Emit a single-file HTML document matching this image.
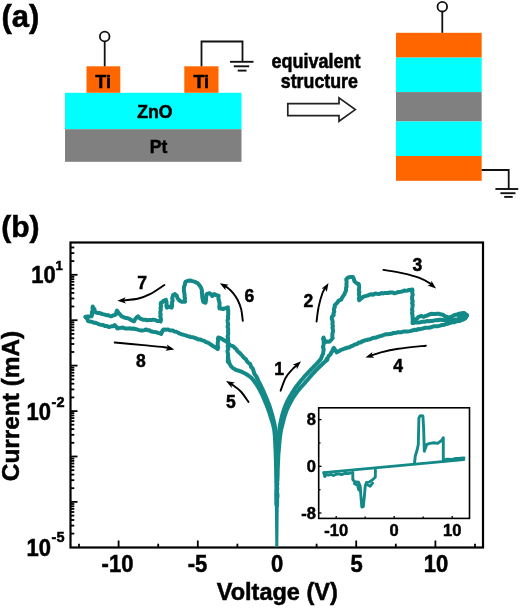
<!DOCTYPE html>
<html><head><meta charset="utf-8">
<style>
html,body{margin:0;padding:0;background:#fff;}
body{width:520px;height:608px;overflow:hidden;}
svg{display:block;}
text{font-family:"Liberation Sans",Arial,sans-serif;font-weight:bold;fill:#000;stroke:#000;stroke-width:0.5px;}
</style></head><body>
<svg width="520" height="608" viewBox="0 0 520 608">
<rect width="520" height="608" fill="#fff"/>
<!-- ===== (a) ===== -->
<text x="1.5" y="26.5" font-size="31">(a)</text>
<rect x="65" y="92.8" width="176.5" height="36.4" fill="#00ffff"/>
<rect x="65" y="129.2" width="176.5" height="32.6" fill="#808080"/>
<rect x="86.5" y="66.3" width="33.8" height="26.5" fill="#ff6600"/>
<rect x="184.3" y="66.3" width="34.2" height="26.5" fill="#ff6600"/>
<text x="103.2" y="87.7" font-size="18" text-anchor="middle">Ti</text>
<text x="201.3" y="87.7" font-size="18" text-anchor="middle">Ti</text>
<text x="154.8" y="118.0" font-size="17.5" text-anchor="middle">ZnO</text>
<text x="158.6" y="152.7" font-size="17.5" text-anchor="middle">Pt</text>
<g fill="none" stroke="#111" stroke-width="1.8">
<circle cx="104.7" cy="36.5" r="4.8"/>
<line x1="104.7" y1="41.3" x2="104.7" y2="66.3"/>
<polyline points="201.5,66.3 201.5,41.5 242.5,41.5 242.5,61.8"/>
<line x1="230" y1="61.8" x2="253.5" y2="61.8" stroke-width="1.9"/>
<line x1="233.8" y1="66.3" x2="249.2" y2="66.3" stroke-width="1.9"/>
<line x1="237.7" y1="70.6" x2="246.5" y2="70.6" stroke-width="1.9"/>
</g>
<text transform="translate(271.6,68.3) scale(1,1.1)" font-size="18">equivalent</text>
<text transform="translate(280.8,87.6) scale(1,1.1)" font-size="17.8">structure</text>
<polygon points="287.8,103.7 339,103.7 339,97.8 355.3,109.6 339,121.3 339,115.6 287.8,115.6" fill="none" stroke="#222" stroke-width="1.7" stroke-linejoin="miter"/>
<rect x="396" y="32.8" width="85.7" height="24.8" fill="#ff6600"/>
<rect x="396" y="57.6" width="85.7" height="34.5" fill="#00ffff"/>
<rect x="396" y="92.1" width="85.7" height="29.4" fill="#808080"/>
<rect x="396" y="121.5" width="85.7" height="34.5" fill="#00ffff"/>
<rect x="396" y="156" width="85.7" height="24.8" fill="#ff6600"/>
<g fill="none" stroke="#111" stroke-width="1.8">
<circle cx="442.3" cy="6.7" r="4.8"/>
<line x1="442.3" y1="11.5" x2="442.3" y2="32.8"/>
<polyline points="481.7,170 508.7,170 508.7,189"/>
<line x1="495.4" y1="189" x2="518.2" y2="189" stroke-width="1.9"/>
<line x1="500.4" y1="193.2" x2="515.5" y2="193.2" stroke-width="1.9"/>
<line x1="504.2" y1="196.9" x2="512.7" y2="196.9" stroke-width="1.9"/>
</g>
<!-- ===== (b) ===== -->
<text x="1.3" y="237.4" font-size="30">(b)</text>
<g id="frame" fill="none" stroke="#000" stroke-width="2.2">
<rect x="70.5" y="242.5" width="412.5" height="305"/>
</g>
<g id="ticks" stroke="#000" stroke-width="1.8">
<line x1="70.5" y1="533.6" x2="74.3" y2="533.6"/>
<line x1="70.5" y1="525.6" x2="74.3" y2="525.6"/>
<line x1="70.5" y1="520.0" x2="74.3" y2="520.0"/>
<line x1="70.5" y1="515.6" x2="74.3" y2="515.6"/>
<line x1="70.5" y1="512.0" x2="74.3" y2="512.0"/>
<line x1="70.5" y1="508.9" x2="74.3" y2="508.9"/>
<line x1="70.5" y1="506.3" x2="74.3" y2="506.3"/>
<line x1="70.5" y1="504.0" x2="74.3" y2="504.0"/>
<line x1="70.5" y1="501.9" x2="77.5" y2="501.9"/>
<line x1="70.5" y1="488.2" x2="74.3" y2="488.2"/>
<line x1="70.5" y1="480.2" x2="74.3" y2="480.2"/>
<line x1="70.5" y1="474.6" x2="74.3" y2="474.6"/>
<line x1="70.5" y1="470.2" x2="74.3" y2="470.2"/>
<line x1="70.5" y1="466.6" x2="74.3" y2="466.6"/>
<line x1="70.5" y1="463.5" x2="74.3" y2="463.5"/>
<line x1="70.5" y1="460.9" x2="74.3" y2="460.9"/>
<line x1="70.5" y1="458.6" x2="74.3" y2="458.6"/>
<line x1="70.5" y1="456.5" x2="77.5" y2="456.5"/>
<line x1="70.5" y1="442.8" x2="74.3" y2="442.8"/>
<line x1="70.5" y1="434.8" x2="74.3" y2="434.8"/>
<line x1="70.5" y1="429.1" x2="74.3" y2="429.1"/>
<line x1="70.5" y1="424.7" x2="74.3" y2="424.7"/>
<line x1="70.5" y1="421.1" x2="74.3" y2="421.1"/>
<line x1="70.5" y1="418.1" x2="74.3" y2="418.1"/>
<line x1="70.5" y1="415.5" x2="74.3" y2="415.5"/>
<line x1="70.5" y1="413.1" x2="74.3" y2="413.1"/>
<line x1="70.5" y1="411.1" x2="77.5" y2="411.1"/>
<line x1="70.5" y1="397.4" x2="74.3" y2="397.4"/>
<line x1="70.5" y1="389.4" x2="74.3" y2="389.4"/>
<line x1="70.5" y1="383.7" x2="74.3" y2="383.7"/>
<line x1="70.5" y1="379.3" x2="74.3" y2="379.3"/>
<line x1="70.5" y1="375.7" x2="74.3" y2="375.7"/>
<line x1="70.5" y1="372.7" x2="74.3" y2="372.7"/>
<line x1="70.5" y1="370.0" x2="74.3" y2="370.0"/>
<line x1="70.5" y1="367.7" x2="74.3" y2="367.7"/>
<line x1="70.5" y1="365.6" x2="77.5" y2="365.6"/>
<line x1="70.5" y1="352.0" x2="74.3" y2="352.0"/>
<line x1="70.5" y1="344.0" x2="74.3" y2="344.0"/>
<line x1="70.5" y1="338.3" x2="74.3" y2="338.3"/>
<line x1="70.5" y1="333.9" x2="74.3" y2="333.9"/>
<line x1="70.5" y1="330.3" x2="74.3" y2="330.3"/>
<line x1="70.5" y1="327.3" x2="74.3" y2="327.3"/>
<line x1="70.5" y1="324.6" x2="74.3" y2="324.6"/>
<line x1="70.5" y1="322.3" x2="74.3" y2="322.3"/>
<line x1="70.5" y1="320.2" x2="77.5" y2="320.2"/>
<line x1="70.5" y1="306.5" x2="74.3" y2="306.5"/>
<line x1="70.5" y1="298.5" x2="74.3" y2="298.5"/>
<line x1="70.5" y1="292.9" x2="74.3" y2="292.9"/>
<line x1="70.5" y1="288.5" x2="74.3" y2="288.5"/>
<line x1="70.5" y1="284.9" x2="74.3" y2="284.9"/>
<line x1="70.5" y1="281.8" x2="74.3" y2="281.8"/>
<line x1="70.5" y1="279.2" x2="74.3" y2="279.2"/>
<line x1="70.5" y1="276.9" x2="74.3" y2="276.9"/>
<line x1="70.5" y1="274.8" x2="77.5" y2="274.8"/>
<line x1="70.5" y1="261.1" x2="74.3" y2="261.1"/>
<line x1="70.5" y1="253.1" x2="74.3" y2="253.1"/>
<line x1="70.5" y1="247.5" x2="74.3" y2="247.5"/>
<line x1="79.0" y1="547.5" x2="79.0" y2="543.7"/>
<line x1="118.6" y1="547.5" x2="118.6" y2="540.5"/>
<line x1="158.2" y1="547.5" x2="158.2" y2="543.7"/>
<line x1="197.8" y1="547.5" x2="197.8" y2="540.5"/>
<line x1="237.4" y1="547.5" x2="237.4" y2="543.7"/>
<line x1="277.0" y1="547.5" x2="277.0" y2="540.5"/>
<line x1="316.6" y1="547.5" x2="316.6" y2="543.7"/>
<line x1="356.2" y1="547.5" x2="356.2" y2="540.5"/>
<line x1="395.8" y1="547.5" x2="395.8" y2="543.7"/>
<line x1="435.4" y1="547.5" x2="435.4" y2="540.5"/>
<line x1="475.0" y1="547.5" x2="475.0" y2="543.7"/>
</g>
<g id="curves" fill="none" stroke="#138a87" stroke-width="4.0" stroke-linejoin="round" stroke-linecap="round">
<polyline points="228.0,362.0 227.8,360.4 228.0,358.8 227.9,357.2 228.1,355.6 228.1,354.0 227.6,352.3 227.5,350.7 228.3,349.1 227.8,347.5 227.7,345.9 228.4,344.3 227.9,342.7 228.3,341.1 227.9,339.5 228.1,337.9 227.6,336.3 228.1,334.6 228.3,333.0 228.0,331.4 228.2,329.8 228.1,328.2 227.5,326.6 228.2,325.0 228.0,323.4 227.7,321.8 227.5,320.2 228.2,318.6 227.9,317.0 228.1,315.3 228.3,313.7 228.1,312.1 228.3,310.5 227.8,308.9 227.9,307.3 225.8,308.1 222.9,309.0 221.2,308.5 219.5,308.5 219.3,306.6 219.6,304.6 219.5,302.7 219.0,300.8 218.5,299.1 218.4,297.4 218.6,295.6 216.3,295.1 214.2,294.1 212.3,296.0 211.1,294.3 209.4,293.2 206.5,294.1 206.4,295.8 206.0,297.6 206.1,299.3 205.8,301.1 205.6,302.8 203.2,301.8 202.8,299.9 202.4,298.0 202.2,296.0 202.1,294.1 201.8,292.1 201.9,290.2 201.3,288.3 200.2,286.3 198.8,284.5 197.7,283.2 196.2,282.6 194.4,281.6 192.3,281.1 190.4,280.5 188.5,280.7 185.6,281.6 185.0,283.2 184.9,284.9 184.1,286.4 183.9,288.2 183.9,289.9 184.0,291.6 184.4,293.4 184.6,295.1 184.5,296.8 185.1,298.4 184.7,300.1 185.1,301.8 183.4,301.7 181.7,301.8 180.1,301.0 178.8,299.9 177.5,298.1 176.9,296.0 175.0,294.1 173.1,295.1 172.6,296.8 172.2,298.6 172.8,300.5 172.0,302.2 172.1,304.0 172.1,305.9 171.6,307.6 169.2,306.6 166.8,307.6 166.4,305.7 166.6,303.7 166.5,301.8 165.9,299.9 163.5,300.8 162.4,302.1 160.8,302.8 160.7,304.5 161.2,306.2 160.5,307.9 160.9,309.6 160.4,311.3 160.3,313.0 160.7,314.7 160.2,316.4 160.8,318.1 161.0,319.8 160.6,321.5 159.0,320.9 157.3,321.0 155.8,320.1 153.1,319.6 151.2,320.1 149.2,320.1 147.3,320.2 145.4,319.8 143.4,319.8 141.5,319.2 139.5,318.1 138.0,316.3 136.5,317.5 135.1,319.2 134.2,321.2 132.4,320.7 130.8,319.8 129.4,318.8 127.9,318.3 126.2,318.1 124.6,317.6 123.1,316.9 121.5,316.3 120.1,314.6 118.7,312.9 116.9,310.6 116.2,312.6 115.8,314.6 114.2,315.1 112.7,315.7 111.2,316.3 109.7,315.8 108.2,315.2 106.5,315.2 104.6,314.6 102.7,314.1 100.8,313.5 99.1,312.9 97.3,312.9 95.6,312.3 94.7,310.9 94.5,309.2 93.4,307.9 92.7,306.5 92.5,308.1 92.7,309.8 92.2,311.4 91.8,313.0 92.1,314.7 91.5,316.3 89.5,316.4 87.5,316.6 85.5,316.9"/>
<polyline points="85.5,316.9 86.6,318.1 87.5,319.4 88.1,321.0 90.0,321.5 92.0,321.8 93.8,322.7 95.7,322.8 97.5,323.5 99.2,324.4 101.1,324.8 103.0,325.0 104.8,325.9 106.9,326.0 108.7,326.9 110.3,326.7 111.9,326.2 113.5,326.2 114.6,325.0 116.2,326.6 117.3,328.5 120.4,327.9 122.0,327.6 123.6,327.8 125.2,328.5 126.8,328.5 128.4,328.5 130.0,328.3 131.7,328.8 133.5,328.6 135.2,329.0 136.9,329.4 139.2,330.1 141.5,330.6 143.1,330.4 144.7,330.1 146.2,329.4 147.6,330.3 149.4,330.3 150.8,331.2 152.7,331.7 154.6,332.1 156.5,332.3 158.1,332.9 159.7,333.2 161.2,334.0 161.9,332.5 162.4,330.8 163.5,329.4 165.8,329.8 168.1,329.4 169.6,330.2 171.3,330.4 173.0,330.6 174.5,331.6 176.2,331.7 177.9,332.5 179.5,333.5 181.3,334.2 183.1,334.6 184.6,335.1 186.2,335.5 187.7,336.1 189.3,336.5 190.8,337.0 192.8,337.2 194.6,337.8 196.5,338.5 198.3,339.4 200.5,339.4 202.3,340.4 204.1,340.8 205.6,342.0 207.4,342.4 209.0,343.3 210.6,344.4 212.2,345.5 213.8,346.6 215.8,347.7 217.7,349.0 218.2,347.4 217.6,345.7 217.8,344.1 217.7,342.4 218.2,340.8 217.9,339.1 218.2,337.5 219.9,337.9 221.5,338.5 223.3,339.9 225.4,340.9 226.8,341.9 227.9,343.1 229.2,344.2 230.4,345.5 232.3,345.9 233.8,346.8 235.0,348.1 236.4,349.2 237.2,350.8 238.5,352.0 239.9,353.1 241.0,354.4 242.3,355.6 243.3,357.1 244.5,358.2 245.9,359.1 246.6,360.7 247.6,362.0 248.8,363.1 250.2,364.0 250.7,365.6 251.2,367.2 252.7,368.3 253.2,369.9 253.7,371.5 254.2,373.4 255.2,375.1 256.4,376.6 257.2,378.4"/>
<polyline points="320.5,359.5 321.2,358.0 321.8,356.6 322.4,355.1 323.1,353.6 323.3,352.0 323.5,350.4 323.7,348.8 322.9,347.2 323.4,345.6 323.8,343.9 323.6,342.3 323.8,340.7 323.1,339.1 323.5,337.5 324.3,339.7 325.0,342.0 326.6,341.6 328.2,341.7 329.8,341.5 331.3,339.8 332.7,338.1 332.3,336.4 332.4,334.7 332.5,333.0 333.1,331.3 332.9,329.5 332.4,327.8 333.0,326.1 332.4,324.4 332.7,322.7 332.5,320.8 331.8,318.9 331.9,316.9 333.7,315.0 333.4,313.4 334.3,311.8 333.9,310.2 334.0,308.6 334.9,307.0 334.6,305.4 336.5,303.5 337.8,302.2 338.5,300.6 341.3,299.6 342.1,297.6 343.3,295.8 344.4,294.5 344.8,292.9 345.6,291.5 346.2,290.0 345.9,288.2 346.6,286.5 346.4,284.7 346.6,282.9 346.6,281.2 346.2,279.4 348.1,277.5 349.7,277.1 351.3,277.0 352.9,276.9 353.9,279.0 354.4,281.3 356.7,283.3 358.7,284.0 359.1,285.6 359.2,287.2 359.0,288.9 358.8,290.5 359.4,292.1 358.8,293.8 359.2,295.4 359.3,297.0 358.9,298.7 359.2,300.3 360.6,299.1 362.0,297.8 363.5,296.7 365.4,296.1 367.4,295.6 369.2,294.8 371.1,294.2 373.1,294.7 374.9,293.6 376.9,293.8 378.5,293.9 380.1,293.8 381.7,292.9 383.3,293.5 384.9,292.9 386.5,292.9 388.1,293.0 389.7,292.5 391.4,292.5 393.0,292.6 394.6,293.3 396.2,292.9 398.0,292.1 400.0,291.9 402.2,291.5 404.2,290.6 405.9,290.8 407.5,290.6 409.1,289.9 410.7,289.7 412.4,289.6 412.4,291.3 412.2,292.9 412.8,294.6 412.2,296.3 412.1,298.0 412.1,299.6 412.8,301.3 412.0,303.0 412.8,304.6 412.5,306.3 412.3,308.0 412.0,309.6 412.5,311.3 412.0,313.0 412.4,314.6 412.6,316.3 412.6,318.0 412.7,319.7 412.8,321.3 412.4,323.0 413.1,321.4 414.4,320.2 415.9,319.2 417.4,318.3 418.5,316.8 420.1,316.3 421.8,316.1 423.6,316.8 425.2,316.2 426.9,315.6 428.5,314.9 430.1,314.2 431.9,313.8 433.6,313.9 435.3,314.0 436.9,313.7 438.6,313.7 440.4,314.2 442.3,314.5 444.0,315.5 445.2,316.7 447.0,316.8 448.1,318.0 449.9,317.2 451.8,316.6 453.5,315.5 455.2,314.7 457.1,314.8 458.8,314.1 460.7,314.1 462.4,313.5 464.2,313.0 465.4,314.2 466.9,315.0"/>
<polyline points="413.0,323.0 415.8,322.4 417.7,322.5 419.6,322.4 421.4,322.0 423.3,321.6 425.2,321.7 427.0,321.0 429.0,321.3 430.8,320.9 432.8,320.9 434.6,320.4 436.3,320.1 438.0,320.3 439.6,319.7 441.3,319.7 442.9,320.1 444.5,320.2 446.2,320.1 447.8,320.4 449.4,320.5 451.1,320.4 452.7,319.7 454.4,319.8 456.0,319.5 458.1,319.3 459.9,318.3 462.0,318.0 463.6,317.6 465.1,316.8 466.5,316.0"/>
<polyline points="466.9,315.5 465.6,318.2 463.6,319.3 461.5,320.2 459.8,320.9 457.9,320.9 456.1,321.5 454.5,322.2 452.7,322.2 451.1,322.7 449.4,322.9 447.8,323.8 446.0,323.9 444.5,324.8 442.7,324.9 440.9,325.3 439.2,325.9 437.4,326.3 435.5,326.3 433.6,326.3 431.9,326.9 430.2,327.6 428.4,327.8 426.5,327.8 424.7,327.8 423.0,328.5 421.2,328.9 419.6,329.3 417.9,329.0 416.4,330.1 414.7,329.7 413.1,330.3 411.5,330.7 409.9,331.1 408.3,331.4 406.6,331.5 405.0,331.6 403.2,331.5 401.6,332.3 399.8,332.2 398.1,332.3 396.3,332.8 394.6,332.9 393.0,333.1 391.4,333.8 389.8,334.1 388.2,334.2 386.5,334.2 384.9,334.5 383.3,335.2 381.7,335.8 380.1,336.1 378.5,336.7 376.9,337.1 375.3,337.8 373.5,337.8 371.8,338.4 370.3,339.3 368.5,339.5 366.8,340.0 365.1,340.2 363.5,341.0 361.9,341.5 360.5,342.5 358.7,342.6 357.5,343.9 355.8,344.3 354.2,344.7 352.8,345.8 351.2,346.2 349.8,347.2 348.1,347.5 346.4,348.0 344.8,348.5 343.2,349.2 341.5,349.6 340.0,350.5 338.3,351.5 336.5,352.3 335.8,350.7 334.8,349.3 333.8,347.8 332.9,349.4 332.2,351.2 331.1,352.7 330.5,354.5 328.9,355.7 327.9,357.5 326.5,359.0"/>
<polyline points="257.2,378.4 257.7,379.3 258.3,380.6 259.1,382.1 259.9,383.8 260.8,385.4 261.5,387.0 262.2,388.5 262.9,389.9 263.5,391.4 264.2,392.9 264.8,394.4 265.5,396.0 266.2,397.6 266.9,399.2 267.5,400.8 268.2,402.5 268.9,404.2 269.5,406.0 270.1,407.9 270.7,409.9 271.3,411.9 271.9,413.9 272.5,416.0 273.0,418.0 273.5,420.0 274.0,422.0 274.4,424.0 274.8,426.0 275.2,428.0 275.5,430.0 275.8,431.9 276.0,433.6 276.1,435.3 276.3,437.2 276.4,439.4 276.5,442.0 276.6,445.2 276.4,447.0 276.7,448.8 276.6,450.7 276.8,452.7 276.6,454.7 276.8,456.8 276.6,458.9 276.9,460.9 277.0,463.0 276.9,465.0 276.8,467.1 276.9,469.2 276.6,471.4 276.9,473.6 276.7,475.8 276.9,478.0 276.9,480.2 276.9,482.3 277.1,484.4 276.9,486.4 277.0,488.2 276.9,490.0 276.9,493.3 276.9,496.3 276.8,499.1 276.8,501.5 276.8,503.5 276.8,505.0"/>
<polyline points="276.6,505.0 276.6,502.8 276.6,499.8 276.5,496.2 276.3,494.3 276.5,492.4 276.6,490.5 276.4,488.6 276.4,485.0 276.3,481.7 276.3,478.3 276.2,475.0 276.2,471.7 276.1,468.3 276.0,465.0 275.9,461.6 275.8,458.1 275.7,454.7 275.6,451.3 275.4,448.0 275.3,445.0 275.2,442.2 275.0,439.5 274.9,437.0 274.7,434.6 274.5,432.3 274.2,430.0 273.8,427.8 273.3,425.7 272.8,423.8 272.2,421.8 271.6,419.9 271.0,418.0 270.4,416.1 269.8,414.1 269.2,412.2 268.5,410.4 267.9,408.6 267.3,407.0 266.7,405.5 266.2,404.1 265.6,402.8 265.1,401.5 264.6,400.3 264.0,399.0 263.4,397.7 262.9,396.4 262.3,395.2 261.7,393.9 261.1,392.7 260.5,391.5 259.9,390.3 259.2,389.1 258.6,387.9 257.9,386.8 257.2,385.6 256.5,384.5 255.7,383.4 254.9,382.2 254.1,381.1 253.2,380.0 252.4,378.9 251.5,378.0 250.6,377.2 249.7,376.4 248.8,375.8 247.9,375.1 246.9,374.6 246.0,374.0 245.1,373.5 244.1,373.0 243.2,372.5 242.3,372.1 241.4,371.7 240.5,371.3 239.6,371.0 238.8,370.7 237.9,370.5 237.1,370.2 236.3,370.0 235.5,369.6 234.7,369.2 234.0,368.7 233.2,368.3 232.5,367.7 231.9,367.1 231.3,366.5 230.8,365.8 230.3,365.0 229.8,364.2 229.4,363.3 229.1,362.4 228.8,361.5 228.6,360.4 228.4,359.2 228.2,357.9 228.1,356.7 228.1,355.7 228.0,355.0"/>
<polyline points="276.8,505.0 276.8,502.8 276.8,499.8 276.9,496.2 277.2,494.3 276.9,492.4 276.7,490.5 277.0,488.6 277.0,485.0 277.1,481.6 277.1,478.2 277.2,474.8 277.2,471.4 277.3,468.2 277.4,465.0 277.5,461.9 277.6,458.9 277.7,456.0 277.8,453.2 278.0,450.5 278.1,448.0 278.2,445.7 278.4,443.6 278.5,441.6 278.6,439.7 278.8,437.8 278.9,436.0 279.0,434.2 279.2,432.6 279.3,431.0 279.4,429.4 279.6,427.8 279.9,426.0 280.2,424.1 280.6,422.1 281.0,420.1 281.5,418.0 282.0,416.0 282.5,414.0 283.1,412.1 283.7,410.2 284.3,408.4 285.0,406.6 285.7,404.8 286.5,403.0 287.3,401.3 288.2,399.6 289.1,397.9 290.0,396.3 291.0,394.7 292.0,393.0 293.1,391.3 294.2,389.6 295.3,387.9 296.5,386.3 297.8,384.6 299.0,383.0 300.3,381.4 301.6,379.8 303.0,378.3 304.3,376.7 305.7,375.2 307.0,373.8 308.3,372.4 309.6,371.0 310.9,369.7 312.1,368.5 313.3,367.2 314.5,366.0 315.7,364.8 316.8,363.5 318.0,362.3 319.0,361.1 319.9,360.2 320.5,359.5"/>
<polyline points="327.5,359.5 326.7,360.2 325.5,361.3 324.1,362.5 322.7,363.8 321.2,365.2 319.8,366.5 318.5,367.8 317.2,369.1 315.9,370.4 314.6,371.8 313.4,373.1 312.1,374.5 310.9,375.9 309.7,377.3 308.5,378.7 307.3,380.1 306.0,381.5 304.8,383.0 303.5,384.5 302.2,385.9 300.8,387.4 299.5,388.9 298.2,390.5 297.0,392.0 295.9,393.5 294.8,395.1 293.8,396.7 292.8,398.2 291.8,399.9 290.9,401.5 290.0,403.2 289.1,404.9 288.3,406.7 287.5,408.4 286.7,410.2 286.0,412.0 285.4,413.8 284.8,415.7 284.2,417.5 283.7,419.4 283.3,421.2 282.8,423.0 282.4,424.7 282.0,426.3 281.6,427.9 281.2,429.6 280.9,431.2 280.6,433.0 280.3,434.8 280.1,436.7 279.8,438.6 279.6,440.6 279.4,442.7 279.2,445.0 279.0,447.5 278.8,450.3 278.5,453.1 278.3,456.1 278.2,459.1 278.0,462.0 277.9,464.9 277.7,467.7 277.6,470.5 277.6,473.4 277.5,476.6 277.4,480.0 277.1,482.0 277.3,484.1 277.0,486.4 277.3,488.7 277.0,491.2 277.2,493.6 277.5,495.9 277.2,498.3 277.1,500.2 277.1,502.2 277.1,505.0"/>
<polygon points="274.7,490 278.9,490 278.3,547 275.3,547" fill="#138a87" stroke="none"/>
<polyline points="459,314.5 463,314 466,315.5 462,317.5" stroke-width="5.5"/>
</g>
<path d="M280.6,390.7 C281.5,388.5 283.7,381.3 285.7,377.7 C287.7,374.1 290.8,371.2 292.7,369.0 C294.6,366.8 296.5,365.4 297.3,364.7" fill="none" stroke="#000" stroke-width="1.9" stroke-linecap="round"/><polygon points="301.0,361.2 296.9,369.3 296.4,365.6 292.7,364.8" fill="#000"/>
<path d="M316.6,321.5 C316.9,319.1 317.6,311.8 318.6,307.0 C319.6,302.2 321.3,296.3 322.5,293.0 C323.7,289.7 325.3,288.3 325.9,287.4" fill="none" stroke="#000" stroke-width="1.9" stroke-linecap="round"/><polygon points="328.5,283.0 326.8,291.9 325.2,288.5 321.5,288.7" fill="#000"/>
<path d="M383.4,269.9 C386.7,270.5 397.4,272.1 403.3,273.4 C409.2,274.7 414.5,276.1 418.8,277.7 C423.1,279.3 427.0,281.6 429.2,282.9 C431.4,284.2 431.6,284.8 432.1,285.2" fill="none" stroke="#000" stroke-width="1.9" stroke-linecap="round"/><polygon points="436.1,288.4 427.5,285.5 431.1,284.4 431.4,280.7" fill="#000"/>
<path d="M425.9,345.7 C421.3,346.2 405.8,347.7 398.3,348.8 C390.8,349.9 385.7,351.1 381.0,352.3 C376.3,353.5 372.0,355.3 370.2,355.9" fill="none" stroke="#000" stroke-width="1.9" stroke-linecap="round"/><polygon points="365.4,357.5 372.5,351.9 371.4,355.5 374.4,357.8" fill="#000"/>
<path d="M248.5,401.9 C247.2,400.2 243.5,394.4 240.8,391.5 C238.1,388.6 233.8,385.9 232.1,384.6 C230.4,383.3 230.7,383.8 230.4,383.6" fill="none" stroke="#000" stroke-width="1.9" stroke-linecap="round"/><polygon points="226.0,381.1 234.9,382.6 231.5,384.3 231.8,388.0" fill="#000"/>
<path d="M242.8,320.8 C242.5,318.9 242.0,312.7 241.2,309.2 C240.3,305.7 239.0,302.7 237.7,300.0 C236.3,297.3 234.8,295.2 233.1,293.1 C231.4,291.0 228.8,288.8 227.3,287.6 C225.8,286.4 224.7,286.1 224.2,285.8" fill="none" stroke="#000" stroke-width="1.9" stroke-linecap="round"/><polygon points="219.8,283.3 228.7,284.8 225.3,286.5 225.6,290.2" fill="#000"/>
<path d="M164.4,285.0 C162.0,286.5 154.3,291.9 150.0,294.2 C145.7,296.4 143.0,297.4 138.5,298.5 C134.0,299.6 125.7,300.2 123.0,300.5 C120.3,300.8 122.5,300.5 122.4,300.5" fill="none" stroke="#000" stroke-width="1.9" stroke-linecap="round"/><polygon points="117.3,300.8 125.6,297.3 123.7,300.5 126.0,303.4" fill="#000"/>
<path d="M114.7,342.5 C119.5,342.9 135.0,344.3 143.3,345.1 C151.6,345.9 160.2,346.7 164.6,347.3 C169.0,347.9 168.6,348.2 169.4,348.4" fill="none" stroke="#000" stroke-width="1.9" stroke-linecap="round"/><polygon points="174.4,349.6 165.4,350.7 168.2,348.1 166.8,344.6" fill="#000"/>
<text x="274.3" y="374.9" font-size="17.5">1</text>
<text x="303.6" y="307.0" font-size="17.5">2</text>
<text x="412.6" y="271.3" font-size="17.5">3</text>
<text x="393.2" y="372.3" font-size="17.5">4</text>
<text x="226" y="407.8" font-size="17.5">5</text>
<text x="244.4" y="301.9" font-size="17.5">6</text>
<text x="137.3" y="289.4" font-size="17.5">7</text>
<text x="136.1" y="367.3" font-size="17.5">8</text>
<rect x="318.7" y="407.8" width="150.8" height="110.6" fill="#fff" stroke="#000" stroke-width="1.6"/>
<line x1="318.7" y1="419.6" x2="321.5" y2="419.6" stroke="#000" stroke-width="1.3"/>
<line x1="318.7" y1="442.9" x2="320.5" y2="442.9" stroke="#000" stroke-width="1.3"/>
<line x1="318.7" y1="466.3" x2="321.5" y2="466.3" stroke="#000" stroke-width="1.3"/>
<line x1="318.7" y1="489.7" x2="320.5" y2="489.7" stroke="#000" stroke-width="1.3"/>
<line x1="318.7" y1="513.0" x2="321.5" y2="513.0" stroke="#000" stroke-width="1.3"/>
<line x1="336.2" y1="518.4" x2="336.2" y2="515.9" stroke="#000" stroke-width="1.3"/>
<line x1="365.2" y1="518.4" x2="365.2" y2="516.6" stroke="#000" stroke-width="1.3"/>
<line x1="394.2" y1="518.4" x2="394.2" y2="515.9" stroke="#000" stroke-width="1.3"/>
<line x1="423.2" y1="518.4" x2="423.2" y2="516.6" stroke="#000" stroke-width="1.3"/>
<line x1="452.2" y1="518.4" x2="452.2" y2="515.9" stroke="#000" stroke-width="1.3"/>
<g font-size="16.5" text-anchor="end"><text x="316" y="425.2">8</text><text x="316" y="471.9">0</text><text x="316" y="518.6">-8</text></g>
<g font-size="16.5" text-anchor="middle"><text x="336.2" y="535.5">-10</text><text x="394.2" y="535.5">0</text><text x="452.2" y="535.5">10</text></g>
<polyline points="323.8,472.6 463.8,459.6" fill="none" stroke="#138a87" stroke-width="2.9" stroke-linejoin="round" stroke-linecap="round"/>
<polyline points="323.8,472.7 324.8,476.6 326.2,474.6 328.5,475.2 331.3,474.4 333.5,475.6 336.0,474.2 338.8,473.9 341.5,474.6 345.0,473.3 348.0,473.6 351.3,472.9" fill="none" stroke="#138a87" stroke-width="2.9" stroke-linejoin="round" stroke-linecap="round"/>
<polyline points="352.8,472.5 352.8,479.5 354.5,481.6 358.5,482.2 360.2,486.0 360.8,495.0 361.8,507.0 363.3,506.5 364.5,495.0 365.2,486.0 366.5,482.4 369.0,482.1 372.0,480.2 375.3,477.2 375.4,470.0" fill="none" stroke="#138a87" stroke-width="2.9" stroke-linejoin="round" stroke-linecap="round"/>
<polyline points="354.5,483.6 357.6,485.2 358.8,490.0" fill="none" stroke="#138a87" stroke-width="2.9" stroke-linejoin="round" stroke-linecap="round"/>
<polyline points="367.2,484.8 370.2,486.2 372.6,483.2" fill="none" stroke="#138a87" stroke-width="2.9" stroke-linejoin="round" stroke-linecap="round"/>
<polyline points="414.4,463.8 415.3,456.0 417.1,450.0 418.3,444.5 418.6,431.0 418.9,418.0 420.3,415.6 422.9,416.0 423.6,427.5 424.3,451.3 426.9,444.3 430.0,443.4 433.8,442.8 437.5,443.4 441.3,440.8 443.3,437.8 443.3,461.5" fill="none" stroke="#138a87" stroke-width="2.9" stroke-linejoin="round" stroke-linecap="round"/>
<polyline points="443.5,460.2 447.0,459.2 452.0,459.5 456.0,458.5 460.0,458.3 464.0,457.9" fill="none" stroke="#138a87" stroke-width="2.9" stroke-linejoin="round" stroke-linecap="round"/>
<text transform="translate(31.3,283.0) scale(1.0,1.12)" font-size="22">10</text>
<text x="55.6" y="269.9" font-size="13.2">1</text>
<text transform="translate(26.5,419.7) scale(1.0,1.12)" font-size="22">10</text>
<text x="51.6" y="406.6" font-size="14.5">-2</text>
<text transform="translate(26.5,555.7) scale(1.0,1.12)" font-size="22">10</text>
<text x="51.6" y="542.3" font-size="14.5">-5</text>
<text transform="translate(117.5,571.8) scale(1.0,1.1)" font-size="22" text-anchor="middle">-10</text>
<text transform="translate(197.5,571.8) scale(1.0,1.1)" font-size="22" text-anchor="middle">-5</text>
<text transform="translate(277,571.8) scale(1.0,1.1)" font-size="22" text-anchor="middle">0</text>
<text transform="translate(356.5,571.8) scale(1.0,1.1)" font-size="22" text-anchor="middle">5</text>
<text transform="translate(436,571.8) scale(1.0,1.1)" font-size="22" text-anchor="middle">10</text>
<text x="277.3" y="600.4" font-size="23.5" text-anchor="middle">Voltage (V)</text>
<text transform="translate(19.3,406.0) rotate(-90)" font-size="24.4" text-anchor="middle">Current (mA)</text>
</svg>
</body></html>
